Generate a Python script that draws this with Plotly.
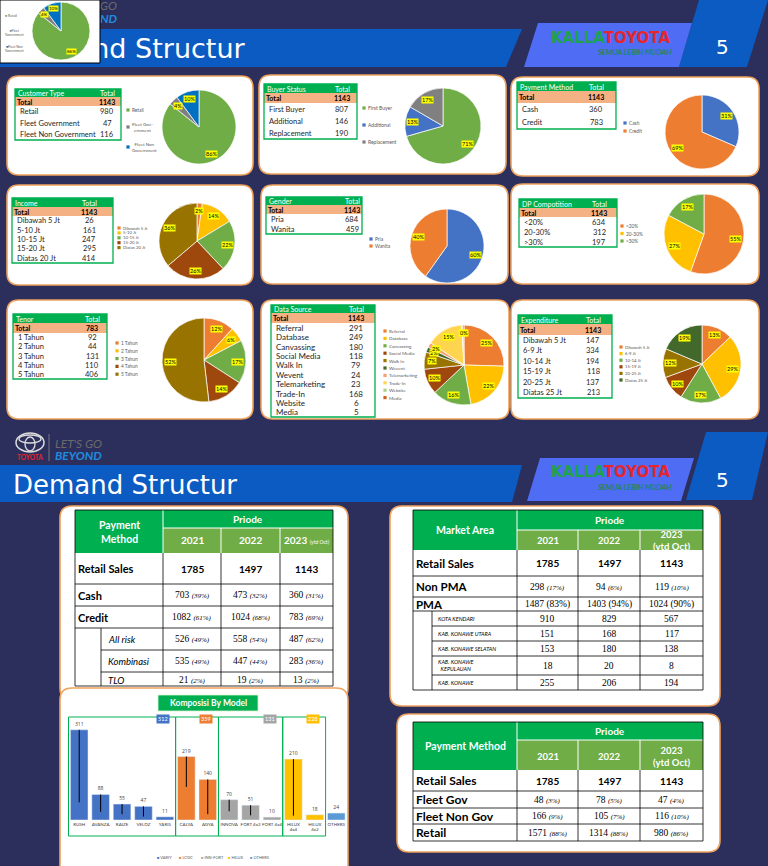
import math
import plotly.graph_objects as go

# ---------------- data ----------------
cust_labels = ["Retail", "Fleet Government", "Fleet Non Government"]
cust_values = [980, 47, 116]
buyer_labels = ["First Buyer", "Additional", "Replacement"]
buyer_values = [807, 146, 190]
pay_labels = ["Cash", "Credit"]
pay_values = [360, 783]
income_labels = ["Dibawah 5 Jt", "5-10 Jt", "10-15 Jt", "15-20 Jt", "Diatas 20 Jt"]
income_values = [26, 161, 247, 295, 414]
gender_labels = ["Pria", "Wanita"]
gender_values = [684, 459]
dp_labels = ["<20%", "20-30%", ">30%"]
dp_values = [634, 312, 197]
tenor_labels = ["1 Tahun", "2 Tahun", "3 Tahun", "4 Tahun", "5 Tahun"]
tenor_values = [92, 44, 131, 110, 406]
source_labels = ["Referral", "Database", "Canvassing", "Social Media", "Walk In", "Wevent",
                 "Telemarketing", "Trade-In", "Website", "Media"]
source_values = [291, 249, 180, 118, 79, 24, 23, 168, 6, 5]
exp_labels = ["Dibawah 5 Jt", "6-9 Jt", "10-14 Jt", "15-19 Jt", "20-25 Jt", "Diatas 25 Jt"]
exp_values = [147, 334, 194, 118, 137, 213]

years = ["2021", "2022", "2023"]
retail_sales = [1785, 1497, 1143]
cash_v, cash_p = [703, 473, 360], [39, 32, 31]
credit_v, credit_p = [1082, 1024, 783], [61, 68, 69]
allrisk_v, allrisk_p = [526, 558, 487], [49, 54, 62]
kombi_v, kombi_p = [535, 447, 283], [49, 44, 36]
tlo_v, tlo_p = [21, 19, 13], [2, 2, 2]

nonpma_v, nonpma_p = [298, 94, 119], [17, 6, 10]
pma_v, pma_p = [1487, 1403, 1024], [83, 94, 90]
kab_labels = ["KOTA KENDARI", "KAB. KONAWE UTARA", "KAB. KONAWE SELATAN",
              "KAB. KONAWE<br>KEPULAUAN", "KAB. KONAWE"]
kab_kendari = [910, 829, 567]
kab_utara = [151, 168, 117]
kab_selatan = [153, 180, 138]
kab_kepulauan = [18, 20, 8]
kab_konawe = [255, 206, 194]

fleetgov_v, fleetgov_p = [48, 78, 47], [3, 5, 4]
fleetnon_v, fleetnon_p = [166, 105, 116], [9, 7, 10]
retail_v, retail_p = [1571, 1314, 980], [88, 88, 86]

models = ["RUSH", "AVANZA", "RAIZE", "VELOZ", "YARIS", "CALYA", "AGYA", "INNOVA",
          "FORT 4x2", "FORT 4x4", "HILUX<br>4x4", "HILUX<br>4x2", "OTHERS"]
model_values = [311, 88, 55, 47, 11, 219, 140, 70, 51, 10, 210, 18, 24]
model_groups = ["VARIY"] * 5 + ["LCGC"] * 2 + ["INN-FORT"] * 3 + ["HILUX"] * 2 + ["OTHERS"]
model_err = [250, 60, 35, 35, 0, 105, 120, 40, 35, 0, 195, 0, 0]
group_names = ["VARIY", "LCGC", "INN-FORT", "HILUX", "OTHERS"]

# ---------------- style ----------------
W, H = 768, 866
NAVY = "#2c2f5c"
BAND = "#0b5bc2"
KBOX = "#4e6cf4"
PLINE = "#f0a25c"
GREEN_H = "#00b050"
GREEN_Y = "#70ad47"
SALMON = "#f4b183"
SANS = "Lato, Open Sans, sans-serif"
SERIF = "Liberation Serif, serif"
DEJ = "DejaVu Sans, sans-serif"
OR, YE, GR, BR, OL, DG = "#ed7d31", "#ffc000", "#70ad47", "#9e480e", "#997300", "#43682b"
BL, GY = "#4472c4", "#7f7f7f"
group_colors = {"VARIY": "#4472c4", "LCGC": "#ed7d31", "INN-FORT": "#a5a5a5",
                "HILUX": "#ffc000", "OTHERS": "#5b9bd5"}

shapes, annots = [], []
fig = go.Figure()


def A(x, y, s, size=8, color="black", fam=SANS, xa="center", ya="middle", bg=None, **kw):
    d = dict(x=x, y=y, xref="x", yref="y", text=s, showarrow=False,
             font=dict(size=size, color=color, family=fam), xanchor=xa, yanchor=ya, borderpad=0)
    if bg:
        d["bgcolor"] = bg
    d.update(kw)
    annots.append(d)


def R(x0, y0, x1, y1, fill=None, line=None, lw=0, layer="below"):
    shapes.append(dict(type="rect", xref="x", yref="y", x0=x0, y0=y0, x1=x1, y1=y1,
                       fillcolor=fill or "rgba(0,0,0,0)",
                       line=dict(color=line or "rgba(0,0,0,0)", width=lw), layer=layer))


def L(x0, y0, x1, y1, color="black", lw=0.8):
    shapes.append(dict(type="line", xref="x", yref="y", x0=x0, y0=y0, x1=x1, y1=y1,
                       line=dict(color=color, width=lw), layer="below"))


def P(pts, fill):
    path = "M" + " L".join(f"{x},{y}" for x, y in pts) + " Z"
    shapes.append(dict(type="path", xref="x", yref="y", path=path, fillcolor=fill,
                       line=dict(width=0), layer="below"))


def panel(x0, y0, x1, y1, r=12):
    path = (f"M{x0+r},{y0} L{x1-r},{y0} Q{x1},{y0} {x1},{y0+r} "
            f"L{x1},{y1-r} Q{x1},{y1} {x1-r},{y1} L{x0+r},{y1} "
            f"Q{x0},{y1} {x0},{y1-r} L{x0},{y0+r} Q{x0},{y0} {x0+r},{y0} Z")
    shapes.append(dict(type="path", xref="x", yref="y", path=path, fillcolor="white",
                       line=dict(color=PLINE, width=1.6), layer="below"))


def pie(values, labels, colors, cx, cy, r, fs=5.5, k=0.8):
    fig.add_trace(go.Pie(values=values, labels=labels, sort=False, direction="clockwise",
                         rotation=0, textinfo="none", showlegend=False,
                         marker=dict(colors=colors, line=dict(color="white", width=0.7)),
                         domain=dict(x=[(cx - r) / W, (cx + r) / W],
                                     y=[1 - (cy + r) / H, 1 - (cy - r) / H])))
    tot = sum(values)
    cum = 0
    for v in values:
        a = 2 * math.pi * (cum + v / 2) / tot
        A(cx + k * r * math.sin(a), cy - k * r * math.cos(a), f"{int(v * 100 / tot + 0.5)}%",
          fs, "black", bg="#ffff00")
        cum += v


def small_table(x0, x1, ys, title, labels, values, valx, fs=7.5, hfs=7):
    yh, yt, yb, ye = ys
    R(x0, yb, x1, ye, "white")
    R(x0, yh, x1, yt, GREEN_H)
    R(x0, yt, x1, yb, SALMON)
    R(x0, yh, x1, ye, None, GREEN_H, 1.3)
    A(x0 + 1.5, (yh + yt) / 2, title, hfs, "white", xa="left")
    A(valx, (yh + yt) / 2, "Total", hfs, "white")
    A(x0 + 1, (yt + yb) / 2, "<b>Total</b>", hfs, "black", xa="left")
    A(valx, (yt + yb) / 2, f"<b>{sum(values)}</b>", hfs, "black")
    n = len(labels)
    h = (ye - yb) / n
    for i, (l, v) in enumerate(zip(labels, values)):
        yc = yb + h * (i + 0.5)
        A(x0 + 4, yc, l, fs, "#262626", xa="left")
        A(valx, yc, str(v), fs, "#262626")


def legend(x, y0, dy, labels, colors, fs=4.8):
    for i, (l, c) in enumerate(zip(labels, colors)):
        y = y0 + dy * i
        R(x - 1.6, y - 1.6, x + 1.6, y + 1.6, c)
        A(x + 3, y, l, fs, "#595959", xa="left")


# ================= TOP SLIDE =================
P([(0, 29), (522, 29), (506, 67), (0, 67)], BAND)
P([(699, 0), (768, 0), (747, 67), (679, 67)], BAND)
P([(538, 23), (692, 23), (679, 67), (524, 67)], KBOX)
A(610, 38, "<b><span style='color:#1ea34b'>KALLA</span><span style='color:#e3262f'>TOYOTA</span></b>",
  15, "#1ea34b", fam=DEJ)
A(673, 52, "<i>SEMUA LEBIH MUDAH</i>", 7.5, "#148a3a", fam=SANS, xa="right")
A(722, 47, "5", 20, "white", fam=DEJ)

# row 1
panel(7, 76, 253, 175)
small_table(15, 121, (89, 97, 106, 140), "Customer Type", cust_labels, cust_values, 107)
legend(128, 110, 0, ["Retail"], [GR])
legend(128, 127, 0, ["Fleet Gov-<br>ernment"], [GY], fs=4.5)
legend(128, 147, 0, ["Fleet Non<br>Government"], ["#0070c0"], fs=4.5)
pie(cust_values, cust_labels, [GR, GY, "#0070c0"], 199, 127, 37)

panel(259, 75, 506, 174)
small_table(264, 357, (84, 93, 103, 139), "Buyer Status", buyer_labels, buyer_values, 342)
legend(364, 108, 17, buyer_labels, [GR, BL, "#808080"], fs=5)
pie(buyer_values, buyer_labels, [GR, BL, "#808080"], 443, 126, 38)

panel(511, 77, 759, 176)
small_table(517, 616, (82, 91, 103, 129), "Payment Method", pay_labels, pay_values, 596)
legend(625, 123, 8, pay_labels, [BL, OR])
pie(pay_values, pay_labels, [BL, OR], 702, 132, 37)

# row 2
panel(7, 185, 253, 285)
small_table(12, 113, (198, 207, 216, 263), "Income", income_labels, income_values, 89)
legend(119, 228, 4.9, income_labels, [OR, YE, GR, BR, OL], fs=4.3)
pie(income_values, income_labels, [OR, YE, GR, BR, OL], 197, 241, 38)

panel(261, 185, 508, 284)
small_table(266, 362, (197, 205, 214, 234), "Gender", gender_labels, gender_values, 352)
legend(371, 239, 7, gender_labels, [BL, OR])
pie(gender_values, gender_labels, [BL, OR], 447, 246, 37)

panel(511, 184, 759, 284)
small_table(519, 617, (199, 208, 217, 247), "DP Compotition", dp_labels, dp_values, 599)
legend(622, 226, 7.5, dp_labels, [OR, YE, GR])
pie(dp_values, dp_labels, [OR, YE, GR], 704, 234, 40)

# row 3
panel(7, 300, 253, 419)
small_table(13, 107, (314, 323, 333, 379), "Tenor", tenor_labels, tenor_values, 92)
legend(117, 343, 7.8, tenor_labels, [OR, YE, GR, BR, OL])
pie(tenor_values, tenor_labels, [OR, YE, GR, BR, OL], 204, 360, 42)

panel(261, 300, 509, 419)
src_colors = [OR, YE, GR, BR, OL, DG, "#f4a070", "#ffd54f", "#a9d18e", "#d2601a"]
small_table(271, 375, (305, 313, 323, 417), "Data Source", source_labels, source_values, 356, fs=8)
legend(385, 331, 7.4, source_labels, src_colors, fs=4.6)
pie(source_values, source_labels, src_colors, 464, 365, 40)

panel(511, 300, 759, 419)
small_table(518, 612, (315, 324, 335, 398), "Expenditure", exp_labels, exp_values, 593)
legend(621, 347, 6.6, exp_labels, [OR, YE, GR, BR, OL, DG], fs=4.3)
pie(exp_values, exp_labels, [OR, YE, GR, BR, OL, DG], 702, 364, 39)

# title + logo text under the inset (scatter text so the inset covers it)
fig.add_trace(go.Scatter(x=[12], y=[51], mode="text", text=["Demand Structur"],
                         textposition="middle right", hoverinfo="skip",
                         textfont=dict(size=27, color="white", family=DEJ), xaxis="x", yaxis="y"))
fig.add_trace(go.Scatter(x=[117, 117], y=[7, 20], mode="text",
                         text=["<i>LET'S GO</i>", "<b><i>BEYOND</i></b>"],
                         textposition="middle left", hoverinfo="skip",
                         textfont=dict(size=12, color=["#6b6b6b", "#1e8ce0"], family=SANS),
                         xaxis="x", yaxis="y"))
# inset picture box
fig.add_trace(go.Scatter(x=[0, 100, 100, 0, 0], y=[0, 0, 63, 63, 0], mode="lines",
                         fill="toself", fillcolor="white", line=dict(color="black", width=1),
                         hoverinfo="skip", xaxis="x", yaxis="y"))
A(4, 15, "<span style='color:#70ad47'>■</span> Retail", 3.6, "#595959", xa="left")
A(4, 33, "<span style='color:#7f7f7f'>■</span>Fleet<br>Government", 3.4, "#595959", xa="left")
A(4, 49, "<span style='color:#0070c0'>■</span>Fleet Non<br>Government", 3.4, "#595959", xa="left")
pie(cust_values, cust_labels, [GR, GY, "#0070c0"], 61, 31, 29, fs=4.5)

# ================= BOTTOM SLIDE =================
# toyota emblem
shapes.append(dict(type="circle", xref="x", yref="y", x0=16, y0=433, x1=44, y1=452,
                   line=dict(color="#dcdcdc", width=1.5), layer="below"))
shapes.append(dict(type="circle", xref="x", yref="y", x0=19, y0=435, x1=41, y1=443,
                   line=dict(color="#dcdcdc", width=1.3), layer="below"))
shapes.append(dict(type="circle", xref="x", yref="y", x0=25, y0=437, x1=35, y1=451,
                   line=dict(color="#dcdcdc", width=1.3), layer="below"))
A(30, 457, "<b>TOYOTA</b>", 6.5, "#e3262f", fam=SANS)
L(49, 434, 49, 461, "#8a8a8a", 0.8)
A(54, 443, "<i>LET'S GO</i>", 12, "#6b6b6b", xa="left")
A(54, 455, "<b><i>BEYOND</i></b>", 12, "#1e8ce0", xa="left")

P([(0, 465), (522, 465), (512, 502), (0, 502)], BAND)
P([(706, 432), (768, 432), (752, 500), (686, 500)], BAND)
P([(540, 458), (694, 458), (681, 501), (527, 501)], KBOX)
A(610, 472, "<b><span style='color:#1ea34b'>KALLA</span><span style='color:#e3262f'>TOYOTA</span></b>",
  15, "#1ea34b", fam=DEJ)
A(673, 487, "<i>SEMUA LEBIH MUDAH</i>", 7.5, "#148a3a", fam=SANS, xa="right")
A(722, 480, "5", 20, "white", fam=DEJ)
A(12, 485, "Demand Structur", 26, "white", fam=DEJ, xa="left")


def val(v, p):
    return f"{v} <i><span style='font-size:7px'>({p}%)</span></i>"


def header(x, ytop, ymid, ybot, title, tfs=10.5):
    R(x[0], ytop, x[1], ybot, GREEN_H)
    R(x[1], ytop, x[4], ymid, GREEN_H)
    R(x[1], ymid, x[4], ybot, GREEN_Y)
    L(x[1], ytop, x[1], ybot, "white", 1)
    L(x[1], ymid, x[4], ymid, "white", 1)
    for xx in x[2:4]:
        L(xx, ymid, xx, ybot, "white", 1)
    A((x[0] + x[1]) / 2, (ytop + ybot) / 2, f"<b>{title}</b>", tfs, "white")
    A((x[1] + x[4]) / 2, (ytop + ymid) / 2, "<b>Priode</b>", 10, "white")


# ---- panel A: payment method by year ----
panel(60, 506, 348, 700)
ax = [75, 163, 221, 280, 333]
cxa = [(ax[i] + ax[i + 1]) / 2 for i in range(1, 4)]
R(ax[0], 553, ax[4], 686, "white")
header(ax, 510, 528, 553, "Payment<br>Method")
for c, y in zip(cxa, years):
    if y == "2023":
        A(c, 540, "<b>2023</b> <span style='font-size:5px'>(ytd Oct)</span>", 10, "white")
    else:
        A(c, 540, f"<b>{y}</b>", 10, "white")
rowsA = [(553, 584), (584, 606), (606, 628), (628, 650), (650, 672), (672, 686)]
for yy in (584, 606, 628):
    L(ax[0], yy, ax[4], yy)
for yy in (650, 672):
    L(101, yy, ax[4], yy)
for xx in ax[1:4]:
    L(xx, 553, xx, 686)
L(101, 628, 101, 686)
R(ax[0], 510, ax[4], 686, None, "black", 0.8)
A(77, sum(rowsA[0]) / 2, "<b>Retail Sales</b>", 11, xa="left")
A(77, sum(rowsA[1]) / 2, "<b>Cash</b>", 11, xa="left")
A(77, sum(rowsA[2]) / 2, "<b>Credit</b>", 11, xa="left")
A(107, sum(rowsA[3]) / 2, "<i>All risk</i>", 9.5, xa="left")
A(107, sum(rowsA[4]) / 2, "<i>Kombinasi</i>", 9.5, xa="left")
A(107, sum(rowsA[5]) / 2 + 1, "<i>TLO</i>", 9.5, xa="left")
for i in range(3):
    A(cxa[i], sum(rowsA[0]) / 2, f"<b>{retail_sales[i]}</b>", 10)
    A(cxa[i], sum(rowsA[1]) / 2, val(cash_v[i], cash_p[i]), 9.5, fam=SERIF)
    A(cxa[i], sum(rowsA[2]) / 2, val(credit_v[i], credit_p[i]), 9.5, fam=SERIF)
    A(cxa[i], sum(rowsA[3]) / 2, val(allrisk_v[i], allrisk_p[i]), 9.5, fam=SERIF)
    A(cxa[i], sum(rowsA[4]) / 2, val(kombi_v[i], kombi_p[i]), 9.5, fam=SERIF)
    A(cxa[i], sum(rowsA[5]) / 2 + 1, val(tlo_v[i], tlo_p[i]), 9.5, fam=SERIF)

# ---- panel B: komposisi by model ----
panel(60, 688, 348, 890)
R(158, 695, 258, 711, GREEN_H, "#d9f2d0", 0.8)
A(208, 703, "<b>Komposisi By Model</b>", 8.5, "white")
bar_colors = [group_colors[g] for g in model_groups]
fig.add_trace(go.Bar(x=models, y=model_values, xaxis="x2", yaxis="y2", marker_color=bar_colors,
                     width=0.82, text=[str(v) for v in model_values], textposition="outside",
                     textfont=dict(size=5, color="#404040"), cliponaxis=False,
                     error_y=dict(type="data", symmetric=False, array=[0] * len(model_values),
                                  arrayminus=model_err, color="black", thickness=1, width=0),
                     showlegend=False))
idx = 0
for g in group_names:
    n = model_groups.count(g)
    tot = sum(v for v, gg in zip(model_values, model_groups) if gg == g)
    if g != "OTHERS":
        shapes.append(dict(type="rect", xref="x2", yref="y", x0=idx - 0.5, x1=idx + n - 0.5,
                           y0=717, y1=836, line=dict(color=GREEN_H, width=1),
                           fillcolor="rgba(0,0,0,0)", layer="above"))
        annots.append(dict(x=idx + n - 0.75, y=719, xref="x2", yref="y", text=str(tot),
                           showarrow=False, xanchor="right", yanchor="middle",
                           font=dict(size=5.5, color="white", family=SANS),
                           bgcolor=group_colors[g], borderpad=1))
    idx += n
lx = 156
for g in group_names:
    A(lx, 857, f"<span style='color:{group_colors[g]}'>■</span> {g}", 4, "#595959", xa="left")
    lx += 22 if g != "INN-FORT" else 27

# ---- panel C: market area ----
panel(390, 506, 720, 706)
cx_ = [413, 517, 578, 640, 703]
cxc = [(cx_[i] + cx_[i + 1]) / 2 for i in range(1, 4)]
R(cx_[0], 550, cx_[4], 690, "white")
header(cx_, 510, 530, 550, "Market Area")
for c, y in zip(cxc, years):
    A(c, 540, "<b>2023<br>(ytd Oct)</b>" if y == "2023" else f"<b>{y}</b>", 9.5, "white")
rowsC = [(550, 576), (576, 597), (597, 611), (611, 626), (626, 641), (641, 656), (656, 675), (675, 690)]
for yy in (576, 597, 611):
    L(cx_[0], yy, cx_[4], yy)
for yy in (626, 641, 656, 675):
    L(432, yy, cx_[4], yy)
for xx in cx_[1:4]:
    L(xx, 550, xx, 690)
L(432, 611, 432, 690)
R(cx_[0], 510, cx_[4], 690, None, "black", 0.8)
A(415, sum(rowsC[0]) / 2, "<b>Retail Sales</b>", 11.5, xa="left")
A(415, sum(rowsC[1]) / 2, "<b>Non PMA</b>", 11.5, xa="left")
A(415, sum(rowsC[2]) / 2, "<b>PMA</b>", 11.5, xa="left")
kab_rows = [kab_kendari, kab_utara, kab_selatan, kab_kepulauan, kab_konawe]
for j, lab in enumerate(kab_labels):
    A(437, sum(rowsC[3 + j]) / 2, f"<i>{lab}</i>", 5.5, xa="left")
for i in range(3):
    A(cxc[i], sum(rowsC[0]) / 2, f"<b>{retail_sales[i]}</b>", 10)
    A(cxc[i], sum(rowsC[1]) / 2, val(nonpma_v[i], nonpma_p[i]), 9.5, fam=SERIF)
    A(cxc[i], sum(rowsC[2]) / 2, f"{pma_v[i]} ({pma_p[i]}%)", 9.5, fam=SERIF)
    for j, rv in enumerate(kab_rows):
        A(cxc[i], sum(rowsC[3 + j]) / 2, str(rv[i]), 9.5, fam=SERIF)

# ---- panel D: payment method (customer type) ----
panel(397, 714, 720, 852)
R(cx_[0], 770, cx_[4], 841, "white")
header(cx_, 722, 740, 770, "Payment Method")
for c, y in zip(cxc, years):
    A(c, 756, "<b>2023<br>(ytd Oct)</b>" if y == "2023" else f"<b>{y}</b>", 9.5, "white")
rowsD = [(770, 791), (791, 808), (808, 824), (824, 841)]
for yy in (791, 808, 824):
    L(cx_[0], yy, cx_[4], yy)
for xx in cx_[1:4]:
    L(xx, 770, xx, 841)
R(cx_[0], 722, cx_[4], 841, None, "black", 0.8)
for (lab, r) in zip(["Retail Sales", "Fleet Gov", "Fleet Non Gov", "Retail"], rowsD):
    A(415, sum(r) / 2, f"<b>{lab}</b>", 12, xa="left")
for i in range(3):
    A(cxc[i], sum(rowsD[0]) / 2, f"<b>{retail_sales[i]}</b>", 10)
    A(cxc[i], sum(rowsD[1]) / 2, val(fleetgov_v[i], fleetgov_p[i]), 9.5, fam=SERIF)
    A(cxc[i], sum(rowsD[2]) / 2, val(fleetnon_v[i], fleetnon_p[i]), 9.5, fam=SERIF)
    A(cxc[i], sum(rowsD[3]) / 2, val(retail_v[i], retail_p[i]), 9.5, fam=SERIF)

fig.update_layout(
    width=W, height=H, margin=dict(l=0, r=0, t=0, b=0), autosize=False,
    paper_bgcolor=NAVY, plot_bgcolor="rgba(0,0,0,0)", showlegend=False,
    xaxis=dict(range=[0, W], domain=[0, 1], visible=False, fixedrange=True),
    yaxis=dict(range=[H, 0], domain=[0, 1], visible=False, fixedrange=True),
    xaxis2=dict(domain=[68 / W, 347 / W], anchor="y2", type="category", showgrid=False,
                zeroline=False, showline=False, ticks="", tickangle=0,
                tickfont=dict(size=4.5, color="#404040", family=SANS), fixedrange=True),
    yaxis2=dict(domain=[1 - 820 / H, 1 - 722 / H], anchor="x2", range=[0, 338], visible=False,
                fixedrange=True),
    bargap=0.18,
    shapes=shapes, annotations=annots,
)
fig.write_html("out.html")
